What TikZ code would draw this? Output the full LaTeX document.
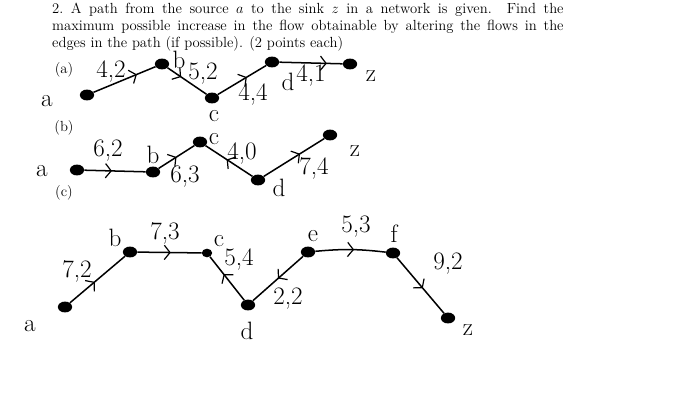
\documentclass[tikz,border=0pt]{standalone}
\usepackage{amsmath}
\usepackage{tikz}
\usetikzlibrary{shapes.geometric}
\usetikzlibrary{decorations.markings,arrows.meta}

\tikzset{
  vtx/.style={ellipse, fill=black, inner sep=0pt, minimum width=5mm, minimum height=3.8mm},
  hand/.style={font=\fontsize{25}{27}\selectfont, inner sep=0pt},
  printed/.style={font=\fontsize{14.6}{17}\selectfont, inner sep=0pt},
  link/.style={line width=1.5pt},
  fwd/.style={link, postaction={decorate}, decoration={markings,
      mark=at position #1 with {\arrow{Straight Barb[length=2mm,width=5mm,line width=1.2pt]}}}},
  bwd/.style={link, postaction={decorate}, decoration={markings,
      mark=at position #1 with {\arrowreversed{Straight Barb[length=2mm,width=5mm,line width=1.2pt]}}}},
}

\begin{document}
\begin{tikzpicture}[x=0.35mm,y=-0.35mm]
\useasboundingbox (0,0) rectangle (688,418);

\node (task) [printed, anchor=north west, text width=179mm, align=justify] at (52,3)
  {2.\ A path from the source $a$ to the sink $z$ in a network is given.\ \ Find the\linebreak
   maximum possible increase in the flow obtainable by altering the flows in the\linebreak
   edges in the path (if possible). (2 points each)};

% (a)
\node (pa) [printed] at (64,70) {(a)};
\node (a1) [vtx] at (87,95) {};
\node (b1) [vtx] at (162,64) {};
\node (c1) [vtx] at (212,98) {};
\node (d1) [vtx] at (272,62) {};
\node (z1) [vtx] at (350,64) {};
\node (la1) [hand] at (47,101) {a};
\node (lb1) [hand] at (179,60) {b};
\node (lc1) [hand] at (214,116) {c};
\node (ld1) [hand] at (288,82) {d};
\node (lz1) [hand] at (371,76) {z};
\node (fab1) [hand] at (111,72) {4,2};
\node (fbc1) [hand] at (203,74) {5,2};
\node (fcd1) [hand] at (253,95) {4,4};
\node (fdz1) [hand] at (311,76) {4,1};
\draw [fwd=0.7]  (a1) -- (b1);
\draw [fwd=0.35] (b1) -- (c1);
\draw [fwd=0.6]  (c1) -- (d1);
\draw [fwd=0.75] (d1) -- (z1);

% (b)
\node (pb) [printed] at (64,128) {(b)};
\node (a2) [vtx] at (77,170) {};
\node (b2) [vtx] at (153,172) {};
\node (c2) [vtx] at (200,142) {};
\node (d2) [vtx] at (258,180) {};
\node (z2) [vtx] at (330,135) {};
\node (la2) [hand] at (42,171) {a};
\node (lb2) [hand] at (153,155) {b};
\node (lc2) [hand] at (214,139) {c};
\node (ld2) [hand] at (279,188) {d};
\node (lz2) [hand] at (355,151) {z};
\node (fab2) [hand] at (108,151) {6,2};
\node (fbc2) [hand] at (185,177) {6,3};
\node (fcd2) [hand] at (242,154) {4,0};
\node (fdz2) [hand] at (314,168) {7,4};
\draw [fwd=0.45] (a2) -- (b2);
\draw [fwd=0.5]  (b2) -- (c2);
\draw [bwd=0.45] (c2) -- (d2);
\draw [fwd=0.6]  (d2) -- (z2);

% (c)
\node (pc) [printed] at (64,193) {(c)};
\node (a3) [vtx] at (65,307) {};
\node (b3) [vtx] at (130,252) {};
\node (c3) [vtx, minimum width=3.6mm, minimum height=3mm] at (207,253) {};
\node (d3) [vtx] at (248,305) {};
\node (e3) [vtx] at (308,252) {};
\node (f3) [vtx] at (393,253) {};
\node (z3) [vtx] at (448,318) {};
\node (la3) [hand] at (30,326) {a};
\node (lb3) [hand] at (115,238) {b};
\node (lc3) [hand] at (219,241) {c};
\node (ld3) [hand] at (247,331) {d};
\node (le3) [hand] at (313,236) {e};
\node (lf3) [hand] at (394,234) {f};
\node (lz3) [hand] at (468,330) {z};
\node (fab3) [hand] at (77,271) {7,2};
\node (fbc3) [hand] at (165,233) {7,3};
\node (fcd3) [hand] at (239,260) {5,4};
\node (fde3) [hand] at (288,299) {2,2};
\node (fef3) [hand] at (356,227) {5,3};
\node (ffz3) [hand] at (448,264) {9,2};
\draw [fwd=0.45] (a3) -- (b3);
\draw [fwd=0.52] (b3) -- (c3);
\draw [bwd=0.4]  (c3) -- (d3);
\draw [bwd=0.5]  (d3) -- (e3);
\draw [fwd=0.55] (e3) to[bend left=6] (f3);
\draw [fwd=0.55] (f3) -- (z3);

\end{tikzpicture}
\end{document}
